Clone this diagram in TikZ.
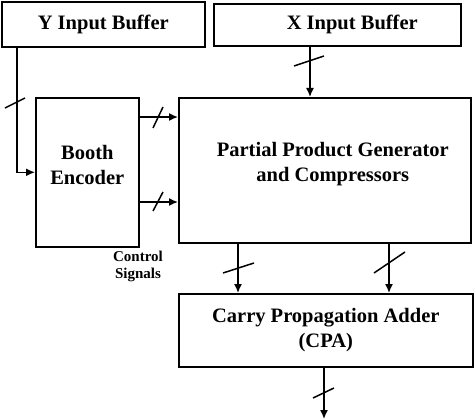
\documentclass[tikz,border=0pt]{standalone}
\usepackage{fontspec}
\setmainfont{Liberation Serif}
\usepackage{tikz}
\usetikzlibrary{shapes, arrows.meta, positioning, calc}
\tikzstyle{block} = [rectangle, draw, line width=1.6pt, align=center, inner sep=0pt, font=\fontsize{20.5}{25}\selectfont\bfseries, anchor=north west]
\tikzstyle{arrow} = [draw, -{Latex[length=9pt, width=8pt]}, line width=1.5pt]
\tikzstyle{slash} = [draw, line width=1.5pt]

\begin{document}
\begin{tikzpicture}[x=1pt, y=-1pt]
    \useasboundingbox (0,0) rectangle (474,420);
    \node (ybuf) [block, minimum width=203pt, minimum height=45pt] at (1,1) {Y Input Buffer};
    \node (xbuf) [block, minimum width=247pt, minimum height=42pt] at (213,3) {\hspace*{30pt}X Input Buffer};
    \node (booth) [block, minimum width=103pt, minimum height=149pt] at (35,97) {Booth\\Encoder\\[-11pt]};
    \node (ppg) [block, minimum width=292pt, minimum height=145pt] at (178,97) {\hspace*{16pt}Partial Product Generator\\\hspace*{16pt}and Compressors\\[-9pt]};
    \node (cpa) [block, minimum width=294pt, minimum height=73pt] at (178,293) {Carry Propagation Adder\\(CPA)};
    \node (ctrl) [align=center, inner sep=0pt, font=\fontsize{15}{17}\selectfont\bfseries] at (138,266) {Control\\Signals};
    \coordinate (out) at (324,419);

    \draw [arrow] ([xshift=16pt]ybuf.south west) |- (booth.west);
    \draw [arrow] (booth.east |- 0,117) -- (ppg.west |- 0,117);
    \draw [arrow] (booth.east |- 0,202) -- (ppg.west |- 0,202);
    \draw [arrow] (xbuf.south -| 310,0) -- (ppg.north -| 310,0);
    \draw [arrow] (ppg.south -| 238,0) -- (cpa.north -| 238,0);
    \draw [arrow] (ppg.south -| 389,0) -- (cpa.north -| 389,0);
    \draw [arrow] (cpa.south -| out) -- (out);

    % bus width marks
    \draw [slash] (5,108) -- (25,98);
    \draw [slash] (153,128) -- (163,107);
    \draw [slash] (153,211) -- (163,192);
    \draw [slash] (294,66) -- (324,56);
    \draw [slash] (223,273) -- (254,263);
    \draw [slash] (374,273) -- (405,252);
    \draw [slash] (313,398) -- (334,388);
\end{tikzpicture}
\end{document}
